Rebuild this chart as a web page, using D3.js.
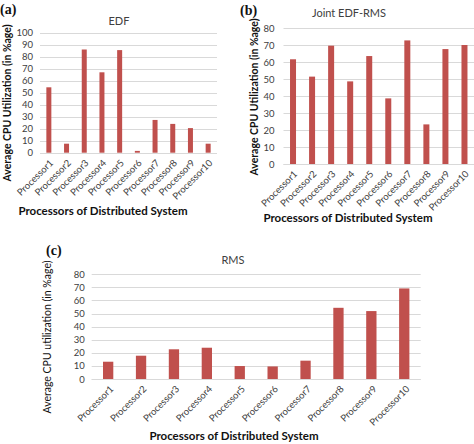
<!DOCTYPE html>
<html>
<head>
<meta charset="utf-8">
<script src="https://cdn.jsdelivr.net/npm/d3@7"></script>
<style>
	body { margin:0; background:#fff; }
	svg text { font-family: Lato, "Noto Sans", sans-serif; fill:#404040; }
	.grid line { stroke:#d9d9d9; stroke-width:1; }
	.axis path, .axis line { stroke:#d9d9d9; }
	.bar { fill:#c0504d; }
	.panelLabel { font-family: "Liberation Serif", "DejaVu Serif", serif !important; font-weight:bold; fill:#111 !important; }
</style>
</head>
<body>
<div id="svgContainer"></div>
<script>
// data
var processors = ["Processor1","Processor2","Processor3","Processor4","Processor5",
	"Processor6","Processor7","Processor8","Processor9","Processor10"];
var edfValues   = [54.5, 7.5, 86, 67, 85.5, 1.5, 27.3, 24, 20.5, 7.5];
var jointValues = [61.6, 51.4, 69.6, 48.6, 63.5, 38.6, 72.7, 23.3, 67.6, 70];
var rmsValues   = [13.2, 17.8, 22.7, 23.9, 9.9, 9.6, 14, 54.4, 51.9, 69.2];
var edfTicks   = [0,10,20,30,40,50,60,70,80,90,100];
var jointTicks = [0,10,20,30,40,50,60,70,80];
var rmsTicks   = [0,10,20,30,40,50,60,70,80];

var svg = d3.select("#svgContainer").append("svg")
	.attr("width", 474)
	.attr("height", 444);

// draw one bar chart panel
function drawPanel(p) {
	var g = svg.append("g").attr("class", "panel");

	var xScale = d3.scaleBand().domain(processors).range([p.x0, p.x1]).paddingInner(p.pad).paddingOuter(p.pad/2);
	var yScale = d3.scaleLinear().domain([0, d3.max(p.ticks)]).range([p.y0, p.y1]);

	// gridlines
	g.append("g").attr("class", "grid")
		.selectAll("line")
		.data(p.ticks)
		.enter()
		.append("line")
		.attr("x1", p.x0).attr("x2", p.x1)
		.attr("y1", function (d){ return Math.round(yScale(d)) + 0.5; })
		.attr("y2", function (d){ return Math.round(yScale(d)) + 0.5; });

	// y axis labels
	var yAxis = d3.axisLeft(yScale).tickValues(p.ticks).tickSize(0).tickPadding(p.tickPad);
	g.append("g").attr("class", "axis")
		.attr("transform", "translate(" + p.x0 + ",0)")
		.call(yAxis)
		.call(function (s){ s.select(".domain").remove(); })
		.selectAll("text")
		.style("font-size", p.tickFont + "px");

	// bars
	var bw = p.barW;
	g.append("g").selectAll("rect")
		.data(p.values)
		.enter()
		.append("rect")
		.attr("class", "bar")
		.attr("x", function (d, i){ return xScale(processors[i]) + xScale.bandwidth()/2 - bw/2; })
		.attr("y", function (d){ return yScale(d); })
		.attr("width", bw)
		.attr("height", function (d){ return yScale(0) - yScale(d); });

	// x axis with rotated labels
	var xAxis = d3.axisBottom(xScale).tickSize(0).tickPadding(0);
	var xg = g.append("g").attr("class", "axis")
		.attr("transform", "translate(0," + (Math.round(p.y0) + 0.5) + ")")
		.call(xAxis);
	xg.select(".domain").attr("d", "M" + p.x0 + ",0H" + p.x1);
	xg.selectAll("text")
		.style("font-size", p.tickFont + "px")
		.attr("text-anchor", "end")
		.attr("dy", 0)
		.attr("y", 0)
		.attr("transform", "translate(" + p.lblDx + "," + p.lblDy + ") rotate(-45)");

	// chart title
	g.append("text")
		.attr("x", p.titleX).attr("y", p.titleY)
		.attr("text-anchor", "middle")
		.style("font-size", "11px")
		.text(p.title);

	// y title
	g.append("text")
		.attr("transform", "translate(" + p.yTitleX + "," + p.yTitleY + ") rotate(-90)")
		.attr("text-anchor", "middle")
		.style("font-size", p.yTitleFont + "px")
		.style("font-weight", p.yTitleBold ? "bold" : "normal")
		.style("fill", "#111")
		.text(p.yTitle);

	// x title
	g.append("text")
		.attr("x", p.xTitleX).attr("y", p.xTitleY)
		.attr("text-anchor", "middle")
		.style("font-size", "11.5px")
		.style("font-weight", "bold")
		.style("fill", "#111")
		.text("Processors of Distributed System");

	// panel letter
	g.append("text")
		.attr("class", "panelLabel")
		.attr("x", p.labelX).attr("y", p.labelY)
		.style("font-size", "14px")
		.text(p.label);
}

drawPanel({
	values: edfValues, ticks: edfTicks,
	x0: 40, x1: 217, y0: 152.7, y1: 32.7, pad: 0.7, barW: 5,
	tickFont: 9.5, tickPad: 7, lblDx: 5, lblDy: 10,
	title: "EDF", titleX: 119, titleY: 25,
	yTitle: "Average CPU Utilization (in %age)", yTitleX: 11, yTitleY: 103, yTitleFont: 10.5, yTitleBold: true,
	xTitleX: 103, xTitleY: 215,
	label: "(a)", labelX: 0, labelY: 14
});

drawPanel({
	values: jointValues, ticks: jointTicks,
	x0: 283.5, x1: 474, y0: 164, y1: 28, pad: 0.68, barW: 6,
	tickFont: 9.5, tickPad: 9, lblDx: 5, lblDy: 10,
	title: "Joint EDF-RMS", titleX: 349, titleY: 17,
	yTitle: "Average CPU Utilization (in %age)", yTitleX: 258, yTitleY: 97, yTitleFont: 10.5, yTitleBold: true,
	xTitleX: 348, xTitleY: 222,
	label: "(b)", labelX: 240, labelY: 15
});

drawPanel({
	values: rmsValues, ticks: rmsTicks,
	x0: 91.7, x1: 420.7, y0: 379, y1: 274.3, pad: 0.68, barW: 10.3,
	tickFont: 9.5, tickPad: 7, lblDx: 6, lblDy: 10,
	title: "RMS", titleX: 233, titleY: 264,
	yTitle: "Average CPU utilization (in %age)", yTitleX: 51, yTitleY: 337, yTitleFont: 10.5, yTitleBold: false,
	xTitleX: 234, xTitleY: 440,
	label: "(c)", labelX: 46, labelY: 255
});
</script>
</body>
</html>
